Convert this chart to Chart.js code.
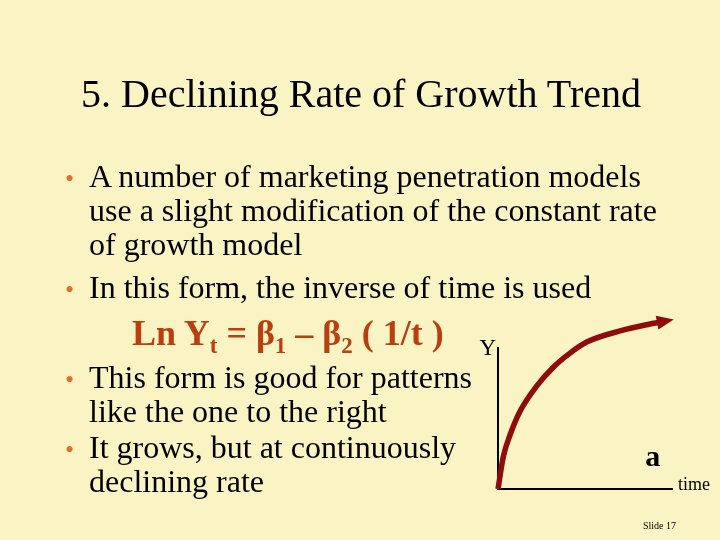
<!DOCTYPE html>
<html><head><meta charset="utf-8">
<script src="https://cdn.jsdelivr.net/npm/chart.js@4"></script>
<style>
html,body{margin:0;padding:0;background:#FAF4C5;}
#slide{position:relative;width:720px;height:540px;overflow:hidden;background:#FAF4C5;font-family:"Liberation Serif","Times New Roman",serif;color:#000;}
#c{position:absolute;left:0;top:0;}
.t{position:absolute;white-space:nowrap;line-height:1;}
.sub{position:relative;top:8px;font-size:23px;line-height:1;}
.eq{color:#B9400E;font-weight:bold;}
.bul{color:#E66E2A;}
</style></head>
<body><div id="slide"><canvas id="c" width="720" height="540"></canvas></div>
<script>
// ---- chart data ----
const timeValues = [0, 0.30, 0.69, 1.26, 2.22, 3.18, 4.14, 5.10, 7.01, 8.74, 9.20];
const yValues    = [0, 2.26, 3.83, 5.50, 7.30, 8.64, 9.64, 10.42, 11.21, 11.70, 11.81];
const axisLabels = { y: "Y", x: "time", curve: "a" };

// ---- slide text ----
const titleText = "5. Declining Rate of Growth Trend";
const bulletLines = [
  { text: "A number of marketing penetration models", bullet: true },
  { text: "use a slight modification of the constant rate" },
  { text: "of growth model" },
  { text: "In this form, the inverse of time is used", bullet: true },
  { text: "This form is good for patterns", bullet: true },
  { text: "like the one to the right" },
  { text: "It grows, but at continuously", bullet: true },
  { text: "declining rate" }
];
const bulletBaselines = [187, 221, 255, 298, 388, 422, 458, 492];

const slide = document.getElementById('slide');
function place(html, cls, left, baseline, fs, extra) {
  const d = document.createElement('div');
  d.className = 't ' + (cls || '');
  d.innerHTML = html;
  d.style.fontSize = fs + 'px';
  d.style.top = (baseline - 0.8375 * fs) + 'px';
  if (left === 'center') { d.style.left = '0px'; d.style.width = '722px'; d.style.textAlign = 'center'; }
  else d.style.left = left + 'px';
  if (extra) Object.assign(d.style, extra);
  slide.appendChild(d);
  return d;
}
place(titleText, '', 'center', 107, 40);
bulletLines.forEach((l, i) => {
  const b = bulletBaselines[i];
  place(l.text, '', 89, b, 32);
  if (l.bullet) place('\u2022', 'bul', 65, b + 1, 26);
});
place('Ln Y<span class="sub">t</span> = \u03B2<span class="sub">1</span> \u2013 \u03B2<span class="sub">2</span> ( 1/t )', 'eq', 132, 345, 36);
place('Slide 17', '', 643, 529, 10);

// ---- chart ----
const arrowAndLabels = {
  id: 'arrowAndLabels',
  afterDatasetsDraw(chart) {
    const ctx = chart.ctx;
    const meta = chart.getDatasetMeta(0);
    const n = meta.data.length;
    const p1 = meta.data[n - 2], p2 = meta.data[n - 1];
    const ang = Math.atan2(p2.y - p1.y, p2.x - p1.x);
    const len = 16, hw = 7;
    const tipX = p2.x + Math.cos(ang) * len, tipY = p2.y + Math.sin(ang) * len;
    const bx = p2.x - Math.cos(ang) * 1, by = p2.y - Math.sin(ang) * 1;
    ctx.save();
    ctx.fillStyle = '#8E0C0C';
    ctx.beginPath();
    ctx.moveTo(tipX, tipY);
    ctx.lineTo(bx - Math.sin(ang) * hw, by + Math.cos(ang) * hw);
    ctx.lineTo(bx + Math.sin(ang) * hw, by - Math.cos(ang) * hw);
    ctx.closePath();
    ctx.fill();
    const a = chart.chartArea;
    ctx.fillStyle = '#000';
    ctx.textBaseline = 'alphabetic';
    ctx.font = '23px "Liberation Serif", "Times New Roman", serif';
    ctx.textAlign = 'right';
    ctx.fillText(axisLabels.y, a.left - 2, a.top + 7);
    ctx.font = '18px "Liberation Serif", "Times New Roman", serif';
    ctx.textAlign = 'left';
    ctx.fillText(axisLabels.x, a.right + 6, a.bottom + 1);
    ctx.font = 'bold 30px "Liberation Serif", "Times New Roman", serif';
    ctx.textAlign = 'center';
    const xs = chart.scales.x, ys = chart.scales.y;
    ctx.fillText(axisLabels.curve, xs.getPixelForValue(8.9), ys.getPixelForValue(1.65));
    ctx.restore();
  }
};

new Chart(document.getElementById('c'), {
  type: 'line',
  data: {
    datasets: [{
      data: timeValues.map((t, i) => ({ x: t, y: yValues[i] })),
      borderColor: '#8E0C0C',
      borderWidth: 5.5,
      pointRadius: 0,
      cubicInterpolationMode: 'monotone',
      fill: false,
      clip: false
    }]
  },
  options: {
    responsive: false,
    animation: false,
    devicePixelRatio: 1,
    layout: { padding: { left: 490, top: 348, right: 48, bottom: 43 } },
    plugins: { legend: { display: false }, tooltip: { enabled: false }, title: { display: false } },
    scales: {
      x: { type: 'linear', min: 0, max: 10, grid: { display: false }, ticks: { display: false },
           border: { display: true, color: '#000', width: 2 } },
      y: { type: 'linear', min: 0, max: 10, grid: { display: false }, ticks: { display: false },
           border: { display: true, color: '#000', width: 2 } }
    }
  },
  plugins: [arrowAndLabels]
});
</script>
</body></html>
